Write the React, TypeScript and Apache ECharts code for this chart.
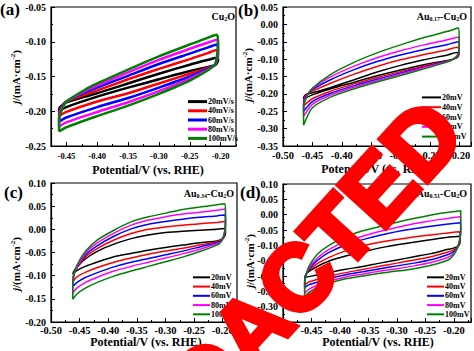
import React, { useEffect, useRef } from 'react';
import * as echarts from 'echarts';

const ratesA = ['20mV/s', '40mV/s', '60mV/s', '80mV/s', '100mV/s'];
const ratesB = ['20mV', '40mV', '60mV', '80mV', '100mV'];
const lineColors = ['#000000', '#ff0000', '#0000ff', '#ff00ff', '#008000'];
const ticksA = [-0.45, -0.40, -0.35, -0.30, -0.25, -0.20];

// (a) Cu2O
const cu2o_20 = [[-0.462,-0.200],[-0.461,-0.195],[-0.455,-0.190],[-0.45,-0.187],[-0.42,-0.179],[-0.40,-0.174],[-0.35,-0.160],[-0.30,-0.146],[-0.25,-0.133],[-0.22,-0.126],[-0.206,-0.123],[-0.204,-0.126],[-0.206,-0.131],[-0.21,-0.134],[-0.25,-0.142],[-0.30,-0.154],[-0.35,-0.166],[-0.40,-0.179],[-0.45,-0.194],[-0.462,-0.200]];
const cu2o_40 = [[-0.462,-0.207],[-0.461,-0.198],[-0.455,-0.190],[-0.45,-0.186],[-0.42,-0.176],[-0.40,-0.170],[-0.35,-0.154],[-0.30,-0.139],[-0.25,-0.125],[-0.22,-0.116],[-0.206,-0.112],[-0.204,-0.118],[-0.206,-0.128],[-0.21,-0.134],[-0.25,-0.146],[-0.30,-0.160],[-0.35,-0.174],[-0.40,-0.186],[-0.45,-0.201],[-0.462,-0.207]];
const cu2o_60 = [[-0.462,-0.215],[-0.461,-0.201],[-0.455,-0.191],[-0.45,-0.186],[-0.42,-0.173],[-0.40,-0.166],[-0.35,-0.149],[-0.30,-0.132],[-0.25,-0.117],[-0.22,-0.108],[-0.206,-0.104],[-0.204,-0.113],[-0.206,-0.126],[-0.21,-0.134],[-0.25,-0.150],[-0.30,-0.166],[-0.35,-0.181],[-0.40,-0.194],[-0.45,-0.209],[-0.462,-0.215]];
const cu2o_80 = [[-0.462,-0.222],[-0.461,-0.204],[-0.455,-0.192],[-0.45,-0.186],[-0.42,-0.171],[-0.40,-0.163],[-0.35,-0.144],[-0.30,-0.126],[-0.25,-0.110],[-0.22,-0.101],[-0.206,-0.097],[-0.204,-0.108],[-0.206,-0.124],[-0.21,-0.134],[-0.25,-0.153],[-0.30,-0.171],[-0.35,-0.187],[-0.40,-0.201],[-0.45,-0.216],[-0.462,-0.222]];
const cu2o_100 = [[-0.462,-0.229],[-0.461,-0.207],[-0.455,-0.193],[-0.45,-0.186],[-0.42,-0.169],[-0.40,-0.160],[-0.35,-0.140],[-0.30,-0.121],[-0.25,-0.104],[-0.22,-0.094],[-0.206,-0.090],[-0.204,-0.103],[-0.206,-0.122],[-0.21,-0.134],[-0.25,-0.156],[-0.30,-0.175],[-0.35,-0.192],[-0.40,-0.207],[-0.45,-0.223],[-0.462,-0.229]];

// (b) Au0.17-Cu2O
const au17_20 = [[-0.465,-0.215],[-0.464,-0.207],[-0.46,-0.201],[-0.45,-0.197],[-0.42,-0.182],[-0.38,-0.160],[-0.34,-0.137],[-0.30,-0.118],[-0.26,-0.102],[-0.22,-0.088],[-0.204,-0.081],[-0.201,-0.086],[-0.203,-0.095],[-0.21,-0.100],[-0.22,-0.104],[-0.26,-0.116],[-0.30,-0.131],[-0.34,-0.148],[-0.38,-0.167],[-0.42,-0.186],[-0.45,-0.203],[-0.465,-0.215]];
const au17_40 = [[-0.465,-0.235],[-0.464,-0.215],[-0.46,-0.202],[-0.45,-0.192],[-0.42,-0.170],[-0.38,-0.144],[-0.34,-0.121],[-0.30,-0.102],[-0.26,-0.087],[-0.22,-0.073],[-0.203,-0.066],[-0.200,-0.078],[-0.202,-0.092],[-0.21,-0.100],[-0.22,-0.105],[-0.26,-0.120],[-0.30,-0.136],[-0.34,-0.153],[-0.38,-0.172],[-0.42,-0.193],[-0.45,-0.214],[-0.465,-0.235]];
const au17_60 = [[-0.465,-0.250],[-0.465,-0.226],[-0.46,-0.205],[-0.45,-0.188],[-0.42,-0.160],[-0.38,-0.131],[-0.34,-0.107],[-0.30,-0.088],[-0.26,-0.072],[-0.22,-0.058],[-0.202,-0.050],[-0.200,-0.068],[-0.202,-0.090],[-0.21,-0.100],[-0.22,-0.106],[-0.26,-0.123],[-0.30,-0.140],[-0.34,-0.158],[-0.38,-0.177],[-0.42,-0.199],[-0.45,-0.222],[-0.465,-0.250]];
const au17_80 = [[-0.465,-0.265],[-0.465,-0.235],[-0.46,-0.207],[-0.45,-0.185],[-0.42,-0.152],[-0.38,-0.121],[-0.34,-0.096],[-0.30,-0.076],[-0.26,-0.059],[-0.22,-0.044],[-0.201,-0.036],[-0.200,-0.060],[-0.202,-0.088],[-0.21,-0.100],[-0.22,-0.107],[-0.26,-0.125],[-0.30,-0.143],[-0.34,-0.162],[-0.38,-0.181],[-0.42,-0.204],[-0.45,-0.230],[-0.465,-0.265]];
const au17_100 = [[-0.465,-0.290],[-0.465,-0.245],[-0.46,-0.210],[-0.45,-0.184],[-0.42,-0.145],[-0.38,-0.110],[-0.34,-0.082],[-0.30,-0.059],[-0.26,-0.038],[-0.22,-0.020],[-0.201,-0.010],[-0.200,-0.050],[-0.202,-0.085],[-0.21,-0.100],[-0.22,-0.108],[-0.26,-0.128],[-0.30,-0.147],[-0.34,-0.166],[-0.38,-0.186],[-0.42,-0.210],[-0.45,-0.240],[-0.465,-0.290]];

// (c) Au0.34-Cu2O
const au34_20 = [[-0.462,-0.097],[-0.460,-0.090],[-0.455,-0.082],[-0.44,-0.064],[-0.42,-0.048],[-0.39,-0.032],[-0.36,-0.020],[-0.33,-0.012],[-0.30,-0.007],[-0.27,-0.004],[-0.24,-0.002],[-0.21,0.000],[-0.196,0.002],[-0.195,-0.008],[-0.197,-0.016],[-0.201,-0.021],[-0.205,-0.023],[-0.21,-0.025],[-0.24,-0.029],[-0.27,-0.034],[-0.30,-0.039],[-0.33,-0.045],[-0.36,-0.052],[-0.39,-0.059],[-0.42,-0.071],[-0.44,-0.080],[-0.455,-0.089],[-0.462,-0.097]];
const au34_40 = [[-0.462,-0.113],[-0.461,-0.100],[-0.459,-0.091],[-0.455,-0.084],[-0.44,-0.060],[-0.42,-0.042],[-0.39,-0.023],[-0.36,-0.009],[-0.33,0.000],[-0.30,0.005],[-0.27,0.009],[-0.24,0.012],[-0.21,0.015],[-0.196,0.017],[-0.195,0.003],[-0.197,-0.012],[-0.201,-0.020],[-0.205,-0.024],[-0.21,-0.027],[-0.24,-0.034],[-0.27,-0.041],[-0.30,-0.047],[-0.33,-0.054],[-0.36,-0.062],[-0.39,-0.071],[-0.42,-0.083],[-0.44,-0.093],[-0.455,-0.103],[-0.462,-0.113]];
const au34_60 = [[-0.462,-0.124],[-0.461,-0.107],[-0.459,-0.094],[-0.455,-0.083],[-0.44,-0.056],[-0.42,-0.036],[-0.39,-0.015],[-0.36,0.001],[-0.33,0.011],[-0.30,0.017],[-0.27,0.022],[-0.24,0.026],[-0.21,0.029],[-0.196,0.031],[-0.195,0.012],[-0.197,-0.010],[-0.201,-0.021],[-0.205,-0.026],[-0.21,-0.029],[-0.24,-0.038],[-0.27,-0.047],[-0.30,-0.055],[-0.33,-0.063],[-0.36,-0.071],[-0.39,-0.081],[-0.42,-0.094],[-0.44,-0.104],[-0.455,-0.115],[-0.462,-0.124]];
const au34_80 = [[-0.462,-0.138],[-0.462,-0.115],[-0.460,-0.098],[-0.455,-0.082],[-0.44,-0.052],[-0.42,-0.030],[-0.39,-0.008],[-0.36,0.009],[-0.33,0.020],[-0.30,0.027],[-0.27,0.033],[-0.24,0.037],[-0.21,0.041],[-0.196,0.044],[-0.195,0.020],[-0.197,-0.008],[-0.201,-0.022],[-0.205,-0.028],[-0.21,-0.031],[-0.24,-0.043],[-0.27,-0.053],[-0.30,-0.062],[-0.33,-0.071],[-0.36,-0.080],[-0.39,-0.090],[-0.42,-0.104],[-0.44,-0.115],[-0.455,-0.127],[-0.462,-0.138]];
const au34_100 = [[-0.462,-0.151],[-0.462,-0.120],[-0.460,-0.098],[-0.455,-0.078],[-0.44,-0.048],[-0.42,-0.024],[-0.39,-0.002],[-0.36,0.016],[-0.33,0.027],[-0.30,0.035],[-0.27,0.043],[-0.24,0.048],[-0.21,0.053],[-0.196,0.055],[-0.195,0.030],[-0.196,0.000],[-0.200,-0.022],[-0.205,-0.030],[-0.21,-0.034],[-0.24,-0.048],[-0.27,-0.060],[-0.30,-0.070],[-0.33,-0.080],[-0.36,-0.090],[-0.39,-0.101],[-0.42,-0.115],[-0.44,-0.127],[-0.455,-0.140],[-0.462,-0.151]];

// (d) Au0.51-Cu2O
const au51_20 = [[-0.462,-0.205],[-0.460,-0.196],[-0.455,-0.186],[-0.44,-0.169],[-0.42,-0.152],[-0.39,-0.135],[-0.355,-0.119],[-0.32,-0.105],[-0.285,-0.094],[-0.25,-0.084],[-0.217,-0.075],[-0.190,-0.070],[-0.189,-0.085],[-0.191,-0.100],[-0.196,-0.106],[-0.202,-0.110],[-0.21,-0.113],[-0.24,-0.127],[-0.27,-0.137],[-0.30,-0.148],[-0.33,-0.158],[-0.36,-0.169],[-0.39,-0.178],[-0.42,-0.189],[-0.44,-0.197],[-0.455,-0.202],[-0.462,-0.205]];
const au51_40 = [[-0.462,-0.230],[-0.461,-0.208],[-0.459,-0.193],[-0.455,-0.182],[-0.44,-0.160],[-0.42,-0.140],[-0.39,-0.118],[-0.355,-0.100],[-0.32,-0.087],[-0.285,-0.077],[-0.25,-0.068],[-0.217,-0.061],[-0.190,-0.056],[-0.189,-0.075],[-0.190,-0.095],[-0.195,-0.108],[-0.200,-0.115],[-0.21,-0.122],[-0.24,-0.137],[-0.27,-0.148],[-0.30,-0.158],[-0.33,-0.168],[-0.36,-0.179],[-0.39,-0.189],[-0.42,-0.201],[-0.44,-0.211],[-0.455,-0.220],[-0.462,-0.230]];
const au51_60 = [[-0.462,-0.238],[-0.462,-0.212],[-0.459,-0.193],[-0.455,-0.178],[-0.44,-0.150],[-0.42,-0.124],[-0.39,-0.099],[-0.355,-0.079],[-0.32,-0.063],[-0.285,-0.050],[-0.25,-0.040],[-0.217,-0.032],[-0.189,-0.026],[-0.188,-0.055],[-0.190,-0.085],[-0.194,-0.108],[-0.200,-0.120],[-0.21,-0.130],[-0.24,-0.147],[-0.27,-0.158],[-0.30,-0.167],[-0.33,-0.176],[-0.36,-0.186],[-0.39,-0.196],[-0.42,-0.209],[-0.44,-0.220],[-0.455,-0.229],[-0.462,-0.238]];
const au51_80 = [[-0.462,-0.257],[-0.462,-0.220],[-0.459,-0.195],[-0.455,-0.175],[-0.44,-0.142],[-0.42,-0.114],[-0.39,-0.088],[-0.355,-0.067],[-0.32,-0.050],[-0.285,-0.035],[-0.25,-0.023],[-0.217,-0.014],[-0.189,-0.007],[-0.188,-0.040],[-0.189,-0.075],[-0.193,-0.105],[-0.200,-0.125],[-0.21,-0.139],[-0.24,-0.156],[-0.27,-0.167],[-0.30,-0.176],[-0.33,-0.184],[-0.36,-0.194],[-0.39,-0.203],[-0.42,-0.217],[-0.44,-0.230],[-0.455,-0.244],[-0.462,-0.257]];
const au51_100 = [[-0.462,-0.270],[-0.462,-0.225],[-0.459,-0.195],[-0.455,-0.170],[-0.44,-0.130],[-0.42,-0.101],[-0.39,-0.072],[-0.355,-0.050],[-0.32,-0.034],[-0.285,-0.018],[-0.25,-0.005],[-0.217,0.006],[-0.188,0.013],[-0.188,-0.030],[-0.189,-0.072],[-0.193,-0.105],[-0.200,-0.130],[-0.21,-0.148],[-0.24,-0.165],[-0.27,-0.176],[-0.30,-0.184],[-0.33,-0.191],[-0.36,-0.200],[-0.39,-0.209],[-0.42,-0.224],[-0.44,-0.238],[-0.455,-0.254],[-0.462,-0.270]];

const FONT = '"Liberation Serif", "Times New Roman", serif';
const fmt = (v: number) => (Math.abs(v) < 1e-9 ? 0 : v).toFixed(2);

function xAx(idx: number, min: number, max: number, fs: number, showMin: boolean, margin: number, custom?: number[]) {
  const ax: any = {
    type: 'value', gridIndex: idx, min, max, interval: 0.05,
    axisLine: { show: true, onZero: false, lineStyle: { color: '#000', width: 1.2 } },
    axisTick: { show: true, inside: true, length: 4, lineStyle: { color: '#000', width: 1 } },
    minorTick: { show: true, splitNumber: 2, length: 2, lineStyle: { color: '#000', width: 1 } },
    splitLine: { show: false },
    axisLabel: { color: '#000', fontFamily: FONT, fontWeight: 'bold', fontSize: fs, margin, showMinLabel: showMin, showMaxLabel: false, formatter: fmt },
  };
  if (custom) {
    // scale ticks fall half-way between the labelled values: draw them short, and the long ones as the midpoints
    ax.axisTick.length = 2;
    ax.minorTick.length = 4;
    ax.axisLabel.customValues = custom;
    ax.axisLabel.showMinLabel = true;
    ax.axisLabel.showMaxLabel = true;
  }
  return ax;
}
function yAx(idx: number, min: number, max: number) {
  return {
    type: 'value', gridIndex: idx, min, max, interval: 0.05,
    axisLine: { show: true, onZero: false, lineStyle: { color: '#000', width: 1.2 } },
    axisTick: { show: true, inside: true, length: 4, lineStyle: { color: '#000', width: 1 } },
    minorTick: { show: true, splitNumber: 2, length: 2, lineStyle: { color: '#000', width: 1 } },
    splitLine: { show: false },
    axisLabel: { color: '#000', fontFamily: FONT, fontWeight: 'bold', fontSize: 10, margin: 5, formatter: fmt },
  };
}
function panelSeries(idx: number, curves: number[][][], names: string[], lw: number) {
  return curves.map((d, i) => ({
    type: 'line', name: names[i], xAxisIndex: idx, yAxisIndex: idx, data: d,
    symbol: 'none', showSymbol: false, smooth: 0.25, silent: true,
    lineStyle: { color: lineColors[i], width: lw }, itemStyle: { color: lineColors[i] }, z: 2 + i,
  }));
}
function legendAt(left: number, top: number, names: string[], iw: number, ih: number, lh: number) {
  return {
    left, top, orient: 'vertical', data: names, icon: 'rect', itemWidth: iw, itemHeight: ih, itemGap: 0,
    padding: 0, selectedMode: false,
    textStyle: { fontFamily: FONT, fontWeight: 'bold', fontSize: 8, color: '#000', lineHeight: lh, padding: [0, 0, 0, -4] },
  };
}
const txt = (x: number, y: number, text: string, font: string, align = 'left') => ({
  type: 'text', x, y, z: 50,
  style: { text, font, fill: '#000', align, verticalAlign: 'middle', textAlign: align, textVerticalAlign: 'middle' },
});
const richSub = {
  n: { fontFamily: FONT, fontWeight: 'bold', fontSize: 10, lineHeight: 12, fill: '#000' },
  s: { fontFamily: FONT, fontWeight: 'bold', fontSize: 6, lineHeight: 6, padding: [6, 0, 0, 0], fill: '#000' },
};
const richY = {
  i: { fontFamily: FONT, fontWeight: 'bold', fontStyle: 'italic', fontSize: 11, lineHeight: 13, fill: '#000' },
  n: { fontFamily: FONT, fontWeight: 'bold', fontSize: 11, lineHeight: 13, fill: '#000' },
  p: { fontFamily: FONT, fontWeight: 'bold', fontSize: 7, lineHeight: 7, padding: [0, 0, 6, 0], fill: '#000' },
};
const yName = (x: number, y: number) => ({
  type: 'text', x, y, rotation: Math.PI / 2, z: 50,
  style: { text: '{i|j}{n|/(mA·cm}{p|-2}{n|)}', rich: richY, align: 'center', verticalAlign: 'middle', textAlign: 'center', textVerticalAlign: 'middle' },
});
const anno = (x: number, y: number, text: string) => ({
  type: 'text', x, y, z: 50,
  style: { text, rich: richSub, align: 'right', verticalAlign: 'middle', textAlign: 'right', textVerticalAlign: 'middle' },
});

export default function App() {
  const ref = useRef<HTMLDivElement>(null);
  useEffect(() => {
    if (!ref.current) return;
    const chart = echarts.init(ref.current, undefined, { renderer: 'svg' });
    const gridBase = { show: true, borderColor: '#000', borderWidth: 1.2, backgroundColor: 'transparent', containLabel: false };
    const option: any = {
      animation: false,
      backgroundColor: '#ffffff',
      grid: [
        { ...gridBase, left: 51, top: 7, width: 185, height: 139 },
        { ...gridBase, left: 283, top: 7, width: 188, height: 139 },
        { ...gridBase, left: 51, top: 183, width: 186, height: 139 },
        { ...gridBase, left: 283, top: 184, width: 188, height: 138 },
      ],
      xAxis: [
        xAx(0, -0.475, -0.175, 8.5, false, 5, ticksA),
        xAx(1, -0.50, -0.18, 10.5, true, 4),
        xAx(2, -0.50, -0.175, 10.5, true, 3),
        xAx(3, -0.50, -0.17, 10.5, true, 3),
      ],
      yAxis: [yAx(0, -0.25, -0.05), yAx(1, -0.35, 0.05), yAx(2, -0.20, 0.10), yAx(3, -0.35, 0.10)],
      legend: [
        legendAt(188, 97, ratesA, 19, 3, 9.2),
        legendAt(422, 92.5, ratesB, 19, 2, 9.8),
        legendAt(193, 272.7, ratesB, 17, 2, 9.25),
        legendAt(427, 272.7, ratesB, 17, 2, 9.25),
      ],
      series: [
        ...panelSeries(0, [cu2o_20, cu2o_40, cu2o_60, cu2o_80, cu2o_100], ratesA, 2.5),
        ...panelSeries(1, [au17_20, au17_40, au17_60, au17_80, au17_100], ratesB, 1.5),
        ...panelSeries(2, [au34_20, au34_40, au34_60, au34_80, au34_100], ratesB, 1.5),
        ...panelSeries(3, [au51_20, au51_40, au51_60, au51_80, au51_100], ratesB, 1.5),
      ],
      graphic: [
        txt(0, 9, '(a)', `bold 17px ${FONT}`),
        txt(238, 10, '(b)', `bold 17px ${FONT}`),
        txt(4, 192, '(c)', `bold 17px ${FONT}`),
        txt(240, 192, '(d)', `bold 17px ${FONT}`),
        anno(235, 16, '{n|Cu}{s|2}{n|O}'),
        anno(467, 16, '{n|Au}{s|0.17}{n|-Cu}{s|2}{n|O}'),
        anno(234, 193, '{n|Au}{s|0.34}{n|-Cu}{s|2}{n|O}'),
        anno(467, 193, '{n|Au}{s|0.51}{n|-Cu}{s|2}{n|O}'),
        txt(148, 170, 'Potential/V (vs. RHE)', `bold 12px ${FONT}`, 'center'),
        txt(377, 169, 'Potential/V (vs. RHE)', `bold 12px ${FONT}`, 'center'),
        txt(146, 342, 'Potential/V (vs. RHE)', `bold 12px ${FONT}`, 'center'),
        txt(378, 342, 'Potential/V (vs. RHE)', `bold 12px ${FONT}`, 'center'),
        yName(16, 77),
        yName(248, 75),
        yName(16, 264),
        yName(250, 261),
        {
          type: 'text', x: 271, y: 307, rotation: 0.834, z: 100,
          style: { text: 'REDACTED', font: 'bold 93px "Liberation Sans", Arial, sans-serif', fill: '#ff0000', stroke: '#ff0000', lineWidth: 5, align: 'center', verticalAlign: 'middle', textAlign: 'center', textVerticalAlign: 'middle' },
        },
      ],
    };
    chart.setOption(option);
    return () => chart.dispose();
  }, []);
  return <div ref={ref} style={{ position: 'fixed', left: 0, top: 0, width: 474, height: 351 }} />;
}
